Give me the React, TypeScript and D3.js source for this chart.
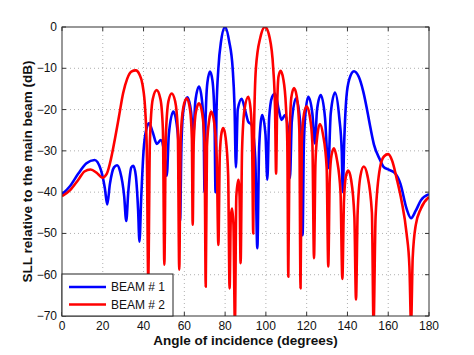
import React from "react";
import * as d3 from "d3";

const xTicks = [0, 20, 40, 60, 80, 100, 120, 140, 160, 180];
const yTicks = [0, -10, -20, -30, -40, -50, -60, -70];
const seriesNames = ["BEAM # 1", "BEAM # 2"];
const seriesColors = ["#0000ff", "#ff0000"];

// [angle (deg), SLL (dB)]
const beam1: [number, number][] = [
  [0, -40.5], [4, -38.5], [8, -35.5], [12, -33], [16, -32.2], [19, -34.5], [21, -39], [22.2, -43],
  [23.5, -38], [25.5, -34], [27, -33.5], [28.5, -35], [30.5, -41], [31.5, -47], [32.5, -40],
  [34, -34], [35, -33.6], [36.2, -36], [37.3, -44], [38, -52], [38.8, -42], [40, -30],
  [41.5, -24.5], [42.7, -23.3], [44.5, -25.5], [46.5, -28.3], [48.5, -27.4], [50, -30],
  [51.4, -36], [52.4, -26], [54.6, -20.5], [56.5, -24.5], [57.3, -30], [57.9, -47], [58.6, -28],
  [59.6, -20], [61.5, -17], [63.3, -20.5], [64.4, -26], [65.4, -18], [67.2, -14.4], [68.7, -18],
  [69.5, -25], [69.9, -40], [70.4, -23], [71.3, -13.5], [72.6, -10.8], [73.8, -13], [74.8, -22],
  [75.3, -40], [75.8, -20], [76.7, -10], [78, -3.5], [80, 0], [82, -3.5], [83.7, -10],
  [84.6, -19], [85.3, -34], [86.2, -20], [88.1, -17.4], [90, -20.5], [91.4, -23], [93, -23.7],
  [94.8, -32], [95.8, -53.6], [96.7, -29], [98.2, -21.3], [99.8, -26], [100.7, -37], [101.6, -22],
  [103, -17], [104.5, -16.1], [106.3, -20], [107.7, -22.5], [109.4, -21.3], [110.9, -25],
  [111.8, -36.6], [112.7, -23], [114.8, -17.3], [116.8, -23], [117.5, -30], [118, -50.4],
  [118.6, -29], [119.4, -21], [120.8, -16.9], [122.8, -21], [124, -28.2], [125.1, -20],
  [126.9, -16.5], [129, -22], [130.6, -34.2], [131.8, -21], [133.9, -15.9], [136, -22],
  [137.2, -30], [137.7, -40], [138.4, -28], [139.5, -17], [141, -12.5], [143.2, -10.7],
  [145.5, -12], [147.8, -15.7], [150, -21], [151, -23.7], [153, -28.5], [156, -32.2],
  [157.6, -33.8], [160, -34.5], [163.3, -35.4], [166, -38], [169, -44], [171.2, -46.3],
  [173.5, -44.5], [176, -42], [180, -40.5],
];

const beam2: [number, number][] = [
  [0, -41], [4, -39.5], [8, -37], [11, -35], [14, -34.5], [17, -35.3], [19.8, -36.5], [22, -35.5],
  [24, -32], [26, -27], [28, -21.5], [30, -16], [32, -12.5], [34, -10.8], [36.2, -10.5],
  [38, -11.5], [39.5, -14], [40.8, -20], [41.6, -30], [42.3, -61], [43.1, -28], [44.5, -17.5],
  [46.4, -15.3], [48.3, -17.5], [49.5, -25], [50.2, -57.6], [50.9, -27], [52.2, -18],
  [53.8, -16.1], [55.5, -18], [56.8, -25], [57.5, -58.8], [58.2, -27], [59.5, -19.5],
  [61.2, -17.3], [62.8, -20], [63.7, -27], [64.1, -47.9], [64.6, -28], [65.7, -20.5],
  [67.2, -18.5], [68.8, -21], [69.9, -28], [70.5, -62.9], [71.1, -29], [72.2, -22.5],
  [73.2, -20.5], [74.6, -23], [75.9, -32], [76.7, -52.8], [77.4, -31], [78.3, -25.5],
  [79.1, -24.5], [80.3, -27], [81.5, -36], [82.2, -63.3], [82.8, -46], [83.4, -44], [84.1, -48],
  [84.8, -72], [85.5, -41], [86.5, -37], [87.1, -41], [87.6, -57.2], [88.3, -30], [89.5, -20],
  [91.4, -16.9], [92.7, -21], [93.3, -30], [93.8, -50], [94.2, -25], [95.1, -10], [97.3, -2.5],
  [99.6, 0], [101.8, -2.5], [103.6, -10], [104.5, -20], [105, -35.5], [105.5, -20], [106.2, -12],
  [107.2, -10.6], [108.5, -12.5], [109.8, -19], [110.5, -28], [111, -60.5], [111.6, -28],
  [112.5, -17], [113.8, -14.8], [115.2, -17], [116.4, -25], [117, -63.3], [117.6, -28],
  [118.7, -21], [120, -19.2], [121.5, -21.5], [122.8, -28], [123.6, -56], [124.3, -33],
  [125.3, -26], [126.5, -23.5], [128, -26], [129.8, -34], [130.6, -58], [131.3, -37],
  [132.2, -31], [133.4, -29.4], [134.8, -32], [136.6, -40], [137.5, -61], [138.3, -42],
  [139.3, -36], [140.4, -34.8], [141.8, -37], [143.4, -46], [144.2, -66], [145, -45],
  [146.4, -36], [148, -33.8], [149.8, -36], [152, -45], [152.8, -72], [153.8, -46], [156, -34],
  [158, -31.3], [160, -30.8], [162, -32.5], [164.1, -36.6], [166.5, -42], [169, -50],
  [170.4, -58], [171.2, -72], [172, -56], [173.5, -48], [176, -44], [180, -41.2],
];

const W = 474;
const H = 355;
const L = 62, R = 429, T = 27, B = 316;

export default function App() {
  const x = d3.scaleLinear().domain([0, 180]).range([L, R]);
  const y = d3.scaleLinear().domain([-70, 0]).range([B, T]);
  const line = d3
    .line<[number, number]>()
    .x((d) => x(d[0]))
    .y((d) => y(d[1]))
    .curve(d3.curveMonotoneX);
  const font = "Liberation Sans, Arial, Helvetica, sans-serif";
  const series = [beam1, beam2];
  return (
    <svg width={W} height={H} style={{ position: "absolute", left: 0, top: 0, background: "#fff" }} fontFamily={font}>
      <defs>
        <clipPath id="plot">
          <rect x={L} y={T} width={R - L} height={B - T} />
        </clipPath>
      </defs>
      <rect x={L} y={T} width={R - L} height={B - T} fill="#fff" />
      {xTicks.slice(1, -1).map((t) => (
        <line key={"gx" + t} x1={x(t)} x2={x(t)} y1={T} y2={B} stroke="#9a9a9a" strokeWidth={0.8} strokeDasharray="1,3" />
      ))}
      {yTicks.slice(1, -1).map((t) => (
        <line key={"gy" + t} x1={L} x2={R} y1={y(t)} y2={y(t)} stroke="#9a9a9a" strokeWidth={0.8} strokeDasharray="1,3" />
      ))}
      {xTicks.map((t) => (
        <g key={"tx" + t}>
          <line x1={x(t)} x2={x(t)} y1={B} y2={B - 4} stroke="#333" />
          <line x1={x(t)} x2={x(t)} y1={T} y2={T + 4} stroke="#333" />
          <text x={x(t)} y={330} fontSize={12} textAnchor="middle" fill="#111">{t}</text>
        </g>
      ))}
      {yTicks.map((t) => (
        <g key={"ty" + t}>
          <line x1={L} x2={L + 4} y1={y(t)} y2={y(t)} stroke="#333" />
          <line x1={R} x2={R - 4} y1={y(t)} y2={y(t)} stroke="#333" />
          <text x={57} y={y(t) + 4} fontSize={12} textAnchor="end" fill="#111">{t === 0 ? "0" : "\u2212" + Math.abs(t)}</text>
        </g>
      ))}
      <g clipPath="url(#plot)">
        {series.map((s, i) => (
          <path key={i} d={line(s) || ""} fill="none" stroke={seriesColors[i]} strokeWidth={2.6} strokeLinejoin="round" />
        ))}
      </g>
      <rect x={L} y={T} width={R - L} height={B - T} fill="none" stroke="#333" strokeWidth={1} />
      <g>
        <rect x={L} y={274} width={111} height={B - 274} fill="#fff" stroke="#222" strokeWidth={1} />
        {seriesNames.map((n, i) => (
          <g key={n}>
            <line x1={69} x2={106} y1={287 + i * 17.5} y2={287 + i * 17.5} stroke={seriesColors[i]} strokeWidth={2.6} />
            <text x={111} y={291 + i * 17.5} fontSize={12} fill="#111">{n}</text>
          </g>
        ))}
      </g>
      <text x={(L + R) / 2 + 0} y={345} fontSize={13.5} fontWeight="bold" textAnchor="middle" fill="#111">Angle of incidence (degrees)</text>
      <text transform={`translate(32,${(T + B) / 2}) rotate(-90)`} fontSize={13.5} fontWeight="bold" textAnchor="middle" fill="#111">SLL relative to the main beam (dB)</text>
    </svg>
  );
}
